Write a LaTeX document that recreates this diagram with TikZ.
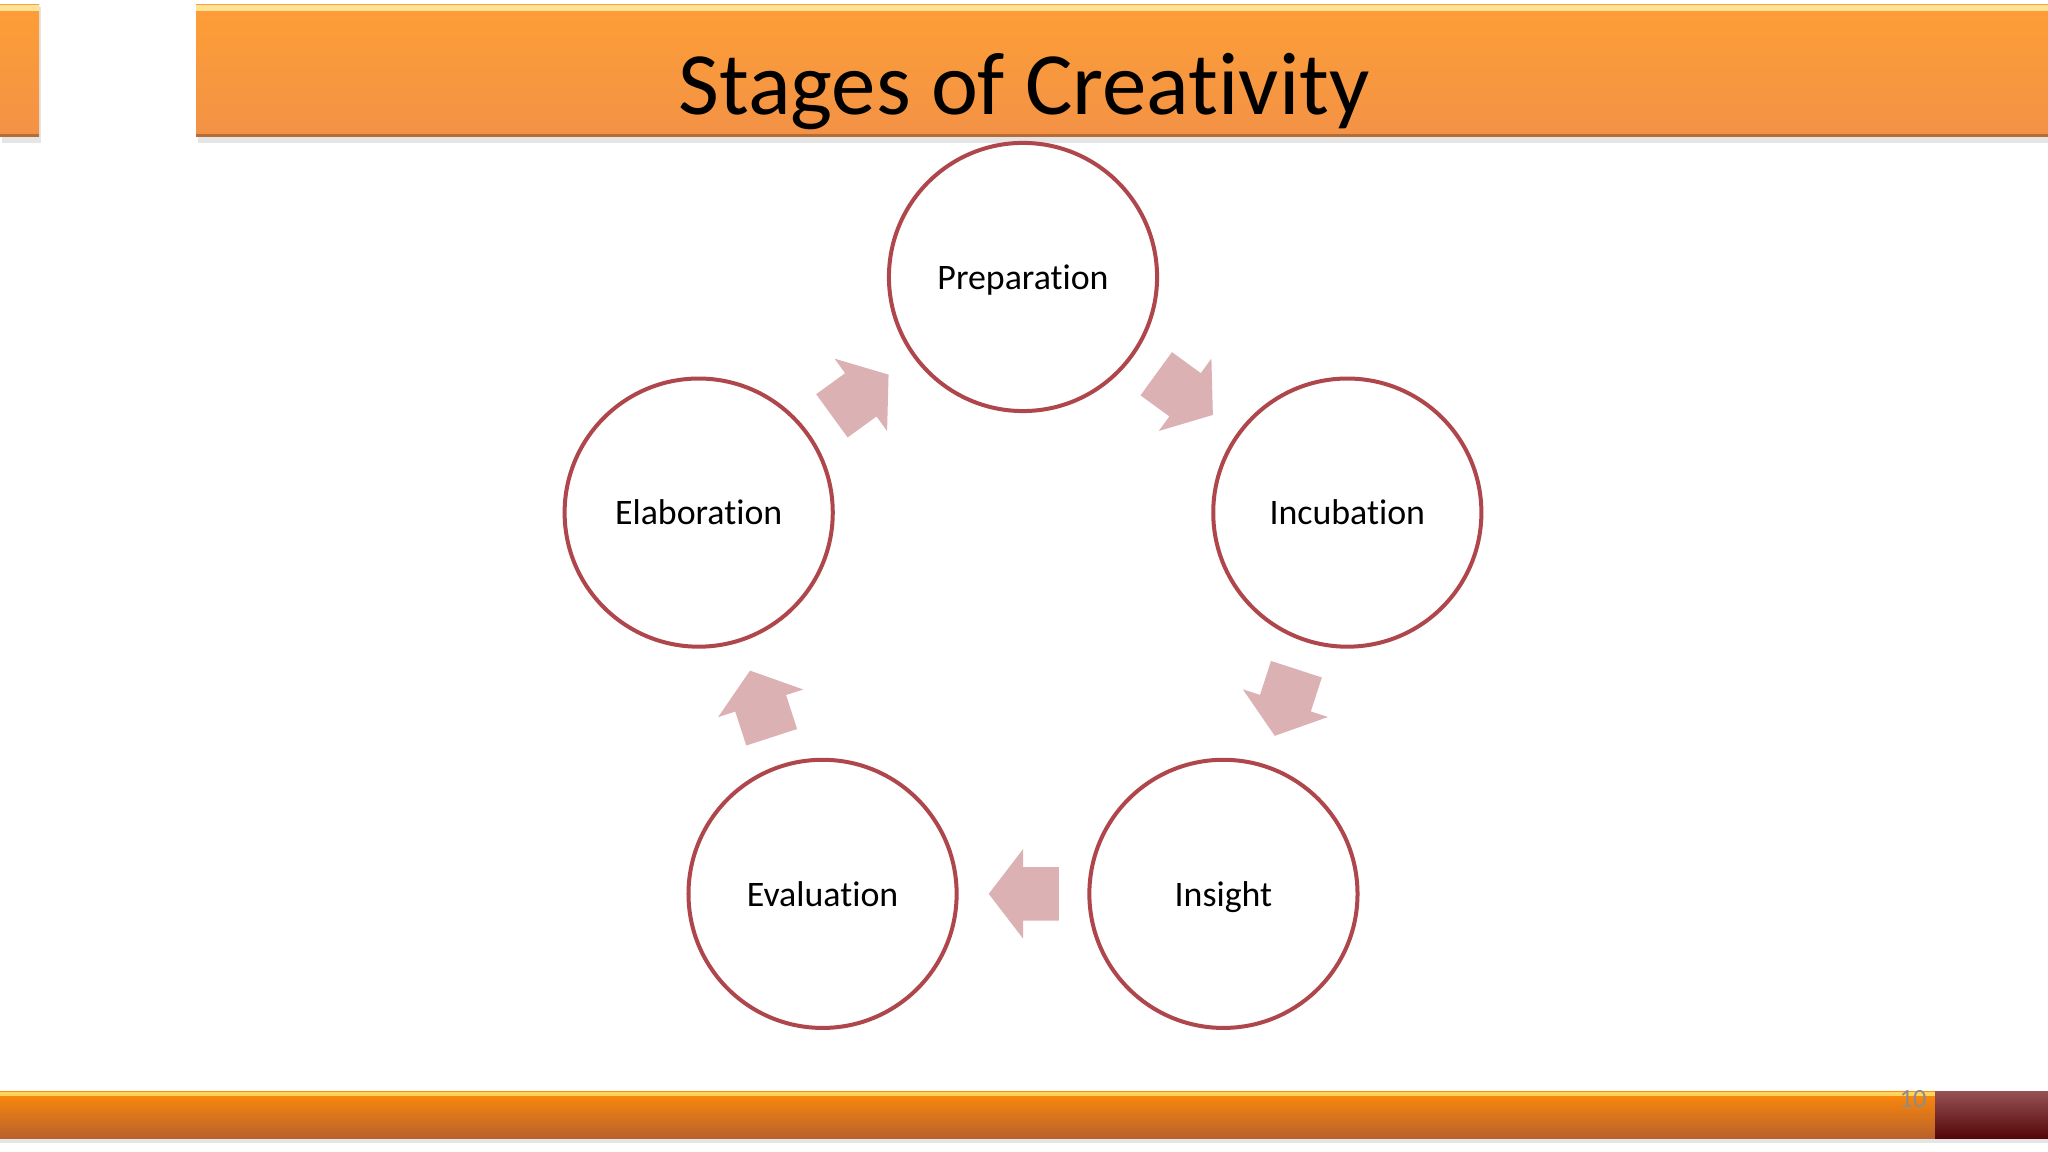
\documentclass[tikz,border=0pt]{standalone}
\usepackage{fontspec}
\setmainfont{Carlito}[Ligatures=NoCommon]
\usetikzlibrary{shapes.arrows, calc}

\definecolor{stageline}{RGB}{174,70,76}
\definecolor{stagearrow}{RGB}{219,177,179}
\definecolor{titletop}{RGB}{253,158,54}
\definecolor{titlebot}{RGB}{243,146,70}
\definecolor{titleshine}{RGB}{255,226,150}
\definecolor{bartop}{RGB}{255,138,10}
\definecolor{barbot}{RGB}{182,96,44}
\definecolor{barshine}{RGB}{255,212,90}
\definecolor{pageblock}{RGB}{104,6,8}
\definecolor{pagenum}{RGB}{140,140,140}

\begin{document}
\begin{tikzpicture}[x=0.01cm, y=0.01cm,
  stage/.style={circle, draw=stageline, line width=0.04cm, fill=white, minimum size=2.68cm, inner sep=0pt, text height=0.7em, text depth=0em, font=\fontsize{10.2}{12}\selectfont},
  flow/.style={single arrow, fill=stagearrow, draw=none, minimum height=0.7cm, single arrow head extend=0.18cm, single arrow tip angle=105, inner xsep=0pt, inner ysep=0.26cm}]
\useasboundingbox (0,0) rectangle (2048,1152);
\fill[white] (0,0) rectangle (2048,1152);

% title bar
\fill[black!10] (2,1009) rectangle (41,1145);
\fill[black!10] (198,1009) rectangle (2048,1145);
\shade[top color=titletop, bottom color=titlebot] (0,1015) rectangle (39,1147);
\shade[top color=titletop, bottom color=titlebot] (196,1015) rectangle (2048,1147);
\fill[titleshine] (0,1141) rectangle (39,1147);
\fill[titleshine] (196,1141) rectangle (2048,1147);
\fill[titlebot!75!black] (0,1015) rectangle (39,1018);
\fill[titlebot!75!black] (196,1015) rectangle (2048,1018);
\node[anchor=base, font=\fontsize{25.3}{30}\selectfont] (title) at (1024,1037) {Stages of Creativity};

% bottom bar
\fill[black!10] (0,9) rectangle (2048,58);
\shade[top color=bartop, bottom color=barbot] (0,13) rectangle (1935,60);
\fill[barshine] (0,56) rectangle (1935,60);
\shade[top color=pageblock!70!white, middle color=pageblock, bottom color=pageblock!80!black] (1935,13) rectangle (2048,60);
\node[text=pagenum, font=\fontsize{7.5}{8}\selectfont] (page) at (1913,53) {10};

% stages
\coordinate (hub) at (1023,534);
\node[stage] (prep) at ([shift={(90:341)}]hub) {Preparation};
\node[stage] (incub) at ([shift={(18:341)}]hub) {Incubation};
\node[stage] (insight) at ([shift={(-54:341)}]hub) {Insight};
\node[stage] (eval) at ([shift={(-126:341)}]hub) {Evaluation};
\node[stage] (elab) at ([shift={(162:341)}]hub) {Elaboration};

\node[flow, rotate=-36] (a1) at ($(prep)!0.5!(incub)!-0.11cm!(incub)$) {};
\node[flow, rotate=-108] (a2) at ($(incub)!0.5!(insight)!-0.11cm!(insight)$) {};
\node[flow, rotate=180] (a3) at ($(insight)!0.5!(eval)!-0.11cm!(eval)$) {};
\node[flow, rotate=108] (a4) at ($(eval)!0.5!(elab)!-0.11cm!(elab)$) {};
\node[flow, rotate=36] (a5) at ($(elab)!0.5!(prep)!-0.11cm!(prep)$) {};
\end{tikzpicture}
\end{document}
